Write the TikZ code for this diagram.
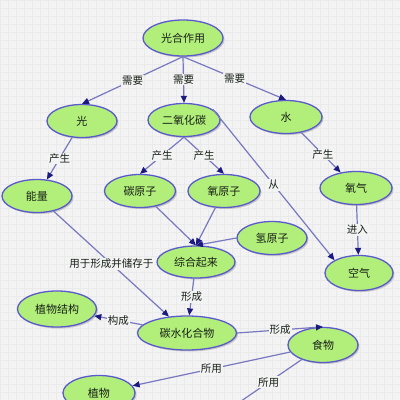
\documentclass[tikz,border=0pt]{standalone}
\usepackage{fontspec}
\setmainfont{Noto Sans CJK SC}
\usetikzlibrary{shapes.geometric,arrows.meta,shadows}
\definecolor{bgc}{HTML}{F3F3F3}
\definecolor{gridc}{HTML}{EAEAEA}
\definecolor{nodefill}{HTML}{B2EF7A}
\definecolor{nodeborder}{HTML}{5A5ACC}
\definecolor{edgec}{HTML}{7878C0}
\definecolor{tipc}{HTML}{1A1A80}
\definecolor{textc}{HTML}{182018}
\tikzset{
  concept/.style={ellipse, draw=nodeborder, line width=1.3pt, fill=nodefill,
    minimum width=#1, minimum height=33pt, inner sep=0pt, text=textc,
    font=\fontsize{11}{12}\selectfont,
    drop shadow={shadow xshift=1.5pt, shadow yshift=-1.5pt, fill=black!40, opacity=0.5}},
  concept/.default=72pt,
  link/.style={draw=edgec, line width=1.2pt, -{Triangle[length=7pt,width=6pt,fill=tipc,color=tipc]}},
  lab/.style={fill=bgc, inner sep=1pt, text=textc, font=\fontsize{10.5}{11}\selectfont}
}
\begin{document}
\begin{tikzpicture}[x=1pt,y=-1pt]
\useasboundingbox (0,0) rectangle (400,400);
\begin{scope}
\clip (0,0) rectangle (400,400);
\fill[bgc] (0,0) rectangle (400,400);
\draw[gridc, line width=0.3pt, step=8pt] (0,-400) grid (400,0);
\draw[gridc, line width=0.3pt, step=8pt] (0,0) grid (400,400);

\node[concept=80pt, minimum height=36pt] (ps) at (183,38) {光合作用};
\node[concept=70pt] (light) at (82,121) {光};
\node[concept=72pt] (co2) at (184,120) {二氧化碳};
\node[concept=72pt] (water) at (286,117) {水};
\node[concept=70pt] (energy) at (37,196) {能量};
\node[concept=71pt] (carbon) at (140,191) {碳原子};
\node[concept=72pt] (oxy) at (224,191) {氧原子};
\node[concept=70pt] (hyd) at (272,238) {氢原子};
\node[concept=78pt, minimum height=32pt] (comb) at (196,262) {综合起来};
\node[concept=72pt] (o2) at (356,188) {氧气};
\node[concept=68pt, minimum height=35pt] (air) at (359,273) {空气};
\node[concept=79pt, minimum height=36pt] (struct) at (57,309) {植物结构};
\node[concept=99pt, minimum height=34pt] (carb) at (187,333) {碳水化合物};
\node[concept=70pt, minimum height=35pt] (food) at (323,345) {食物};
\node[concept=72pt, minimum height=35pt] (plant) at (99,393) {植物};
\coordinate (animal) at (228,410);

\draw[link] (ps.south) -- node[lab]{需要} (light.north);
\draw[link] (ps.south) -- node[lab]{需要} (co2.north);
\draw[link] (ps.south) -- node[lab]{需要} (water.north);
\draw[link] (light) -- node[lab]{产生} (energy);
\draw[link] (co2.south) -- node[lab]{产生} (carbon.north);
\draw[link] (co2.south) -- node[lab]{产生} (oxy.north);
\draw[link] (co2.20) -- node[lab, pos=0.5]{从} (air.north west);
\draw[link] (water) -- node[lab, pos=0.55]{产生} (o2);
\draw[link] (o2) -- node[lab]{进入} (air);
\draw[link] (carbon) -- (comb.north);
\draw[link] (oxy) -- (comb.north);
\draw[link] (hyd.west) -- (comb.north);
\draw[link] (energy) -- node[lab, pos=0.5]{用于形成并储存于} (carb);
\draw[link] (comb) -- node[lab]{形成} (carb);
\draw[link] (carb) -- node[lab]{构成} (struct);
\draw[link] (carb.east) -- node[lab]{形成} (food.north);
\draw[link] (food) -- node[lab]{所用} (plant);
\draw[draw=edgec, line width=1.2pt] (food) -- node[lab, pos=0.45]{所用} (animal);
\end{scope}
\end{tikzpicture}
\end{document}
